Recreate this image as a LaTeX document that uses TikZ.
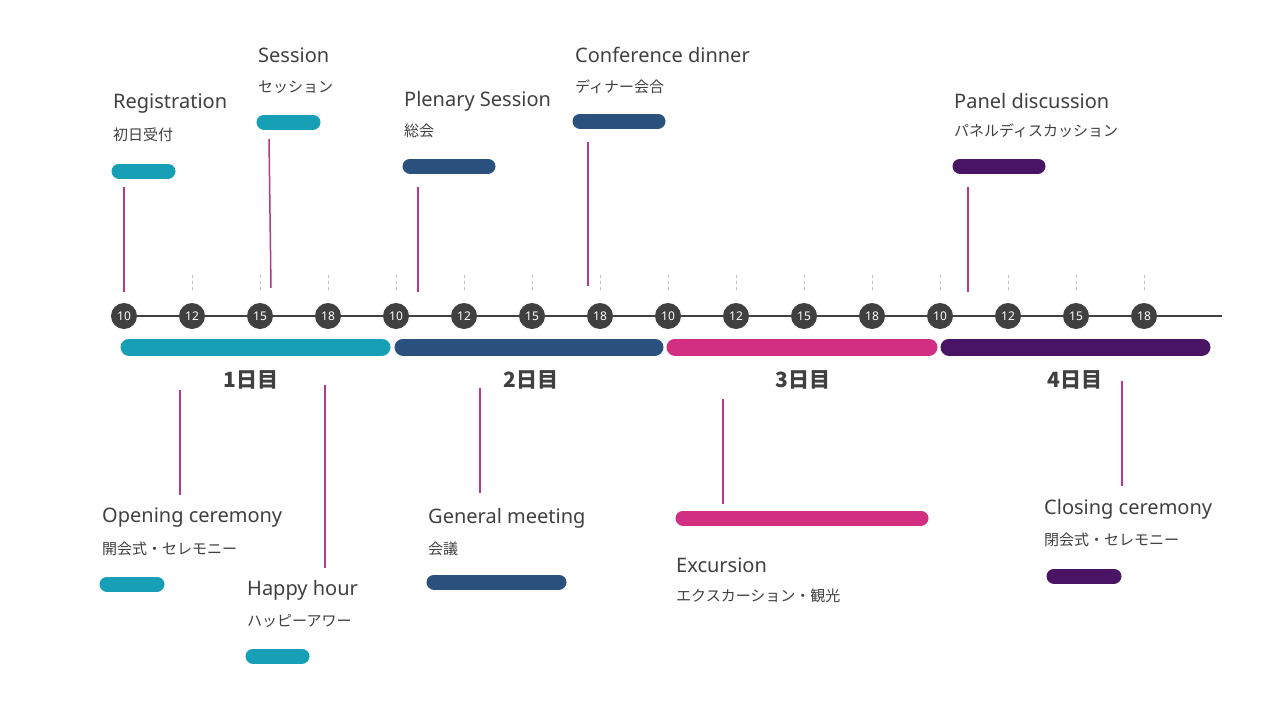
\documentclass[tikz,border=0pt]{standalone}
\usepackage{fontspec}
\setmainfont{Noto Sans}
\newfontfamily\jp{Noto Sans CJK JP}
\begin{document}
\begin{tikzpicture}[x=1pt,y=-1pt,
  en/.style={anchor=west,inner sep=0,font=\fontsize{20}{22}\selectfont,text=txt},
  ja/.style={anchor=west,inner sep=0,font=\jp\fontsize{15}{17}\selectfont,text=txt},
  ev/.style={line width=15pt,line cap=round},
  day/.style={line width=17pt,line cap=round},
  pin/.style={draw=pinc,line width=1.5pt},
  tk/.style={circle,fill=txt,minimum size=26pt,inner sep=0,text=white,font=\bfseries\fontsize{12}{12}\selectfont},
  dl/.style={font=\jp\bfseries\fontsize{21}{22}\selectfont,text=txt}]
\definecolor{teal}{HTML}{169FB5}
\definecolor{navy}{HTML}{2B527F}
\definecolor{mag}{HTML}{D22F83}
\definecolor{purp}{HTML}{4A1465}
\definecolor{txt}{HTML}{404040}
\definecolor{pinc}{HTML}{B5388A}
\useasboundingbox (0,0) rectangle (1280,720);
\fill[white] (0,0) rectangle (1280,720);
% axis
\coordinate (a0) at (124,316); \coordinate (a1) at (1222,316);
\draw[txt,line width=1.5pt] (a0) -- (a1);
\foreach \x/\l [count=\i] in {124/10,192/12,260/15,328/18,396/10,464/12,532/15,600/18,668/10,736/12,804/15,872/18,940/10,1008/12,1076/15,1144/18}{
  \ifnum\i>1 \draw[gray!50,dashed,line width=0.6pt] (\x,275) -- (\x,293);\fi
  \node[tk] (t\i) at (\x,316) {\l};
}
% day bars
\draw[day,teal] (129,347) -- (382,347);
\draw[day,navy] (403,347) -- (655,347);
\draw[day,mag] (675,347) -- (929,347);
\draw[day,purp] (949,347) -- (1202,347);
\node[dl] (d1) at (251,380) {1日目};
\node[dl] (d2) at (531,380) {2日目};
\node[dl] (d3) at (803,380) {3日目};
\node[dl] (d4) at (1075,380) {4日目};
% top events
\node[en] (reg) at (113,104) {Registration};
\node[ja] (regj) at (113,135) {初日受付};
\draw[ev,teal] (119,171) -- (168,171);
\draw[pin] (124,187) -- (124,292);

\node[en] (ses) at (258,55) {Session};
\node[ja] (sesj) at (258,87) {セッション};
\draw[ev,teal] (264,122) -- (313,122);
\draw[pin] (269,139) -- (271,288);

\node[en] (ple) at (404,101) {Plenary Session};
\node[ja] (plej) at (404,131) {総会};
\draw[ev,navy] (410,166) -- (488,166);
\draw[pin] (418,187) -- (418,292);

\node[en] (din) at (575,55) {Conference dinner};
\node[ja] (dinj) at (575,87) {ディナー会合};
\draw[ev,navy] (580,121) -- (658,121);
\draw[pin] (588,142) -- (588,286);

\node[en] (pan) at (954,101) {Panel discussion};
\node[ja] (panj) at (954,131) {パネルディスカッション};
\draw[ev,purp] (960,166) -- (1038,166);
\draw[pin] (968,187) -- (968,292);
% bottom events
\node[en] (ope) at (102,518) {Opening ceremony};
\node[ja] (opej) at (102,549) {開会式・セレモニー};
\draw[ev,teal] (107,584) -- (157,584);
\draw[pin] (180,390) -- (180,495);

\node[en] (hap) at (247,590) {Happy hour};
\node[ja] (hapj) at (247,621) {ハッピーアワー};
\draw[ev,teal] (253,656) -- (302,656);
\draw[pin] (325,385) -- (325,568);

\node[en] (gen) at (428,518) {General meeting};
\node[ja] (genj) at (428,549) {会議};
\draw[ev,navy] (434,582) -- (559,582);
\draw[pin] (480,388) -- (480,493);

\node[en] (exc) at (676,565) {Excursion};
\node[ja] (excj) at (676,596) {エクスカーション・観光};
\draw[ev,mag] (683,518) -- (921,518);
\draw[pin] (723,399) -- (723,504);

\node[en] (clo) at (1044,509) {Closing ceremony};
\node[ja] (cloj) at (1044,540) {閉会式・セレモニー};
\draw[ev,purp] (1054,576) -- (1114,576);
\draw[pin] (1122,381) -- (1122,486);
\end{tikzpicture}
\end{document}
